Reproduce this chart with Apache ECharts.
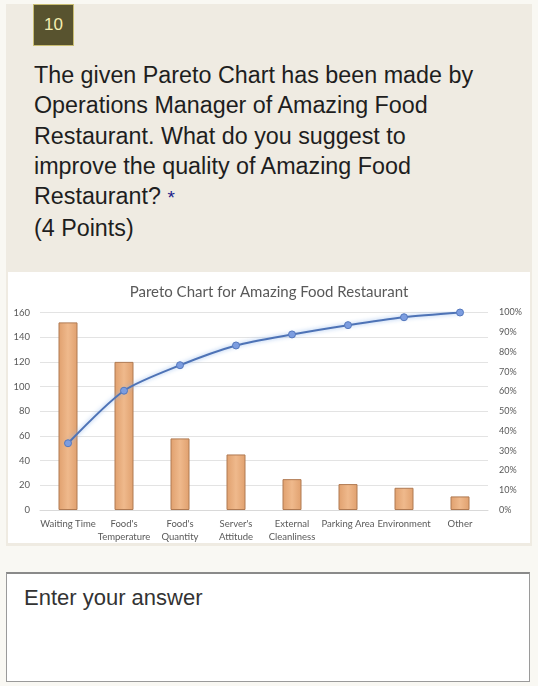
<!DOCTYPE html>
<html>
<head>
<meta charset="utf-8">
<script src="https://cdn.jsdelivr.net/npm/echarts@6/dist/echarts.min.js"></script>
<style>
  html, body { margin:0; padding:0; }
  body { width:538px; height:686px; background:#f9f8f3; position:relative; overflow:hidden; font-family:"Liberation Sans", Arial, sans-serif; }
  #panel { position:absolute; left:6px; top:4px; width:526px; height:542px; background:#efebe2; }
  #num { position:absolute; left:33px; top:4px; width:39px; height:40px; background:#58532f; border:1px solid #c9bd72; color:#f4eeb0; font-size:17px; line-height:40px; text-align:center; }
  #q { position:absolute; left:34px; top:60px; width:495px; font-size:23.3px; line-height:30.3px; color:#1e1e1e; }
  #q .star { color:#1b1b8a; font-size:19px; }
  #chartwrap { position:absolute; left:8px; top:272px; width:522px; height:271px; background:#ffffff; }
  #chart { width:522px; height:271px; }
  #answer { position:absolute; left:6px; top:572px; width:524px; height:110px; background:#ffffff; border:1px solid #9a9a9a; border-top:2px solid #8a8a8a; box-sizing:border-box; }
  #answer span { position:absolute; left:17px; top:11px; font-size:22px; color:#333333; }
</style>
</head>
<body>
<div id="panel"></div>
<div id="num">10</div>
<div id="q">The given Pareto Chart has been made by<br>Operations Manager of Amazing Food<br>Restaurant. What do you suggest to<br>improve the quality of Amazing Food<br>Restaurant? <span class="star">*</span><br>(4 Points)</div>
<div id="chartwrap"><div id="chart"></div></div>
<div id="answer"><span>Enter your answer</span></div>
<script>
const chartTitle = 'Pareto Chart for Amazing Food Restaurant';
const categories = ['Waiting Time', "Food's\nTemperature", "Food's\nQuantity", "Server's\nAttitude", 'External\nCleanliness', 'Parking Area', 'Environment', 'Other'];
const counts = [152, 120, 58, 45, 25, 21, 18, 11];
const cumulativePct = [33.8, 60.4, 73.3, 83.3, 88.9, 93.6, 97.6, 100];
const leftAxisRange = [0, 160, 20];
const rightAxisRange = [0, 100, 10];

const chart = echarts.init(document.getElementById('chart'), null, {renderer: 'canvas'});
const labelColor = '#595959';
chart.setOption({
  animation: false,
  backgroundColor: '#ffffff',
  title: {
    text: chartTitle,
    left: 'center',
    top: 8,
    textStyle: { fontFamily: 'Lato', fontSize: 15, fontWeight: 'normal', color: labelColor }
  },
  grid: { left: 32, right: 42, top: 40.5, bottom: 32.5 },
  xAxis: {
    type: 'category',
    data: categories,
    axisTick: { show: false },
    axisLine: { lineStyle: { color: '#d9d9d9' } },
    axisLabel: { interval: 0, fontFamily: 'Lato', fontSize: 9.5, color: labelColor, lineHeight: 12.5, margin: 8 }
  },
  yAxis: [
    {
      type: 'value', min: leftAxisRange[0], max: leftAxisRange[1], interval: leftAxisRange[2],
      axisLine: { show: false }, axisTick: { show: false },
      axisLabel: { fontFamily: 'Lato', fontSize: 9.5, color: labelColor, margin: 10 },
      splitLine: { lineStyle: { color: '#e3e3e3', width: 1 } }
    },
    {
      type: 'value', min: rightAxisRange[0], max: rightAxisRange[1], interval: rightAxisRange[2],
      axisLine: { show: false }, axisTick: { show: false },
      axisLabel: { fontFamily: 'Lato', fontSize: 9, color: labelColor, margin: 11, formatter: '{value}%' },
      splitLine: { show: false }
    }
  ],
  series: [
    {
      type: 'bar',
      data: counts,
      yAxisIndex: 0,
      barWidth: 19,
      itemStyle: {
        color: new echarts.graphic.LinearGradient(0, 0, 1, 0, [
          { offset: 0, color: '#e0a06e' },
          { offset: 0.5, color: '#efb98c' },
          { offset: 1, color: '#e0a06e' }
        ]),
        borderColor: '#b07a52',
        borderWidth: 1
      }
    },
    {
      type: 'line',
      data: cumulativePct,
      yAxisIndex: 1,
      smooth: 0.25,
      symbol: 'circle',
      symbolSize: 7,
      lineStyle: { color: '#4e73b6', width: 2, shadowColor: 'rgba(140,180,235,0.9)', shadowBlur: 4 },
      itemStyle: { color: '#7c9de0', borderColor: '#5478bd', borderWidth: 1 }
    }
  ]
});
</script>
</body>
</html>
